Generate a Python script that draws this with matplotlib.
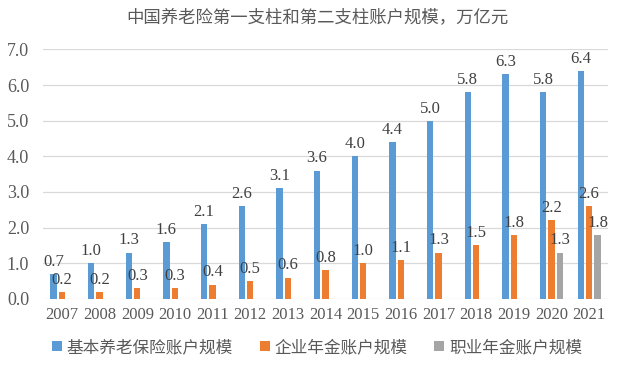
import numpy as np
import matplotlib
matplotlib.use("Agg")
from matplotlib import pyplot as plt

plt.rcParams['font.family'] = ['Liberation Serif', 'Noto Sans CJK SC']

years = ["2007", "2008", "2009", "2010", "2011", "2012", "2013", "2014",
         "2015", "2016", "2017", "2018", "2019", "2020", "2021"]
basic = [0.7, 1.0, 1.3, 1.6, 2.1, 2.6, 3.1, 3.6, 4.0, 4.4, 5.0, 5.8, 6.3, 5.8, 6.4]
enterprise = [0.2, 0.2, 0.3, 0.3, 0.4, 0.5, 0.6, 0.8, 1.0, 1.1, 1.3, 1.5, 1.8, 2.2, 2.6]
occupational = [None] * 13 + [1.3, 1.8]

series = [
    ("基本养老保险账户规模", basic, "#5B9BD5"),
    ("企业年金账户规模", enterprise, "#ED7D31"),
    ("职业年金账户规模", occupational, "#A5A5A5"),
]

fig = plt.figure(figsize=(6.34, 3.69), dpi=100)
ax = fig.add_axes([0.068, 0.19, 0.891, 0.676])

x = np.arange(len(years))
w = 0.17
step = 0.225
for i, (name, vals, col) in enumerate(series):
    v = np.array([np.nan if a is None else a for a in vals], dtype=float)
    pos = x + (i - 1) * step
    ax.bar(pos, v, width=w, color=col, label=name, zorder=2)
    for px, py in zip(pos, v):
        if np.isnan(py):
            continue
        ax.annotate(f"{py:.1f}", (px, py), xytext=(0, 3), textcoords="offset points",
                    ha="center", va="bottom", fontsize=12, color="#404040", zorder=3)

ax.set_xlim(-0.5, len(years) - 0.5)
ax.set_ylim(0, 7)
ax.set_yticks(np.arange(0, 7.5, 1.0))
ax.set_yticklabels([f"{t:.1f}" for t in np.arange(0, 7.5, 1.0)])
ax.set_xticks(x)
ax.set_xticklabels(years)
ax.tick_params(axis="both", length=0, labelsize=12, colors="#595959")
ax.tick_params(axis="y", labelsize=13, pad=10)
ax.tick_params(axis="x", pad=6)
ax.grid(axis="y", color="#D9D9D9", linewidth=0.9, zorder=0)
for s in ax.spines.values():
    s.set_visible(False)

fig.text(0.5, 0.953, "中国养老险第一支柱和第二支柱账户规模，万亿元", ha="center", va="center",
         fontsize=12.5, color="#595959")

fig.legend(loc="center", bbox_to_anchor=(0.5, 0.057), ncol=3, frameon=False,
           fontsize=12, handlelength=0.6, handleheight=0.6, handletextpad=0.3,
           columnspacing=1.6, labelcolor="#595959")

fig.savefig("out.png", dpi=100)
